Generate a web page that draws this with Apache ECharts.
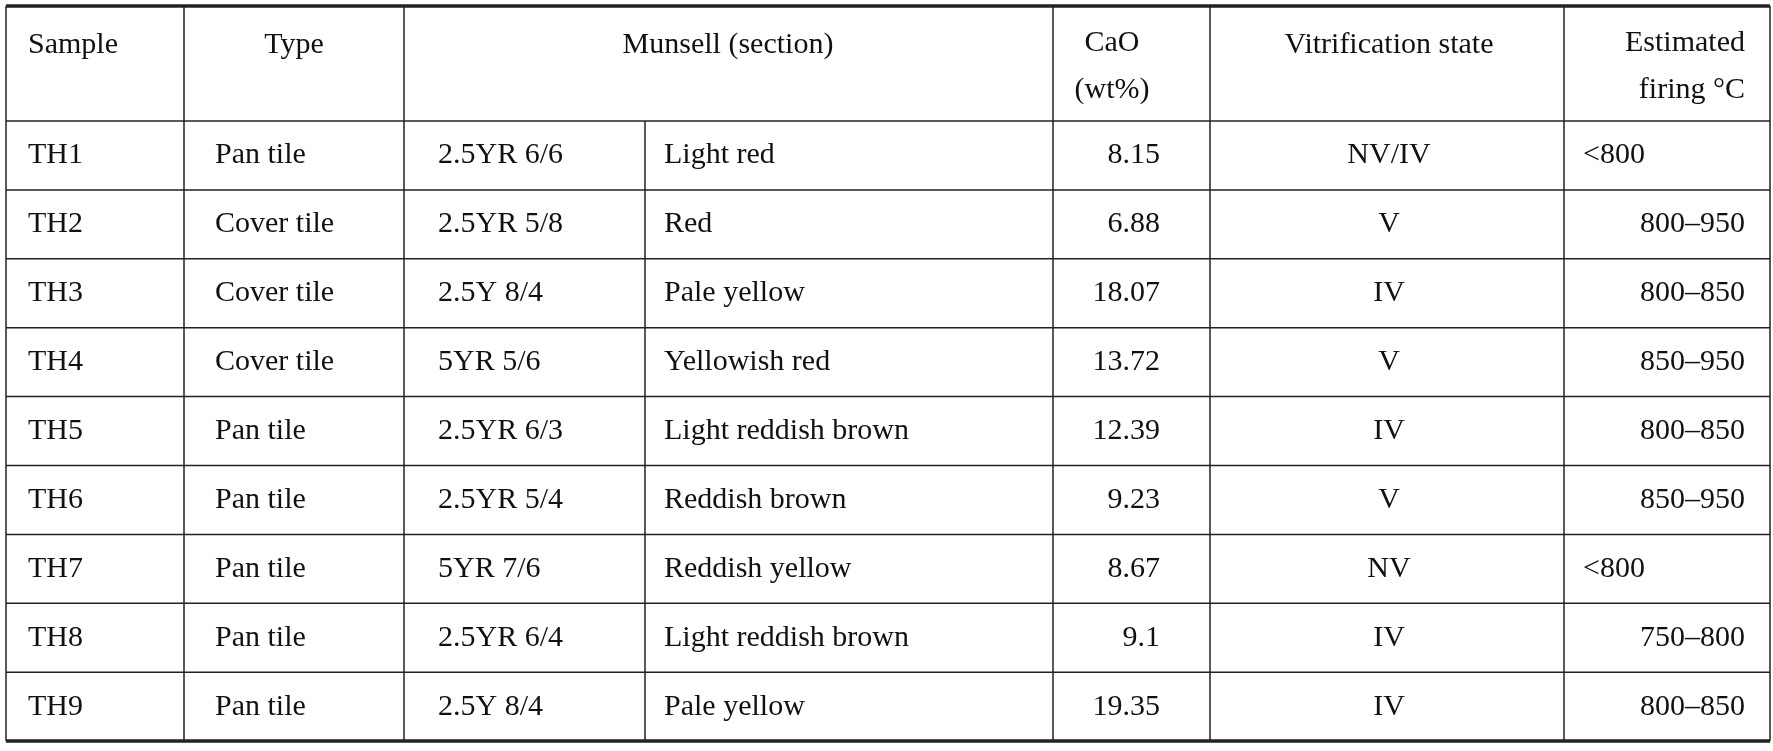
<!DOCTYPE html>
<html>
<head>
<meta charset="utf-8">
<script src="https://cdn.jsdelivr.net/npm/echarts@6/dist/echarts.min.js"></script>
<style>html,body{margin:0;padding:0;background:#fff}#container{width:1773px;height:751px}</style>
</head>
<body>
<div id="container"></div>
<script>
var samples = ['TH1', 'TH2', 'TH3', 'TH4', 'TH5', 'TH6', 'TH7', 'TH8', 'TH9'];
var types = ['Pan tile', 'Cover tile', 'Cover tile', 'Cover tile', 'Pan tile', 'Pan tile', 'Pan tile', 'Pan tile', 'Pan tile'];
var munsellCodes = ['2.5YR 6/6', '2.5YR 5/8', '2.5Y 8/4', '5YR 5/6', '2.5YR 6/3', '2.5YR 5/4', '5YR 7/6', '2.5YR 6/4', '2.5Y 8/4'];
var munsellNames = ['Light red', 'Red', 'Pale yellow', 'Yellowish red', 'Light reddish brown', 'Reddish brown', 'Reddish yellow', 'Light reddish brown', 'Pale yellow'];
var cao = ['8.15', '6.88', '18.07', '13.72', '12.39', '9.23', '8.67', '9.1', '19.35'];
var vitrification = ['NV/IV', 'V', 'IV', 'V', 'IV', 'V', 'NV', 'IV', 'IV'];
var firing = ['<800', '800–950', '800–850', '850–950', '800–850', '850–950', '<800', '750–800', '800–850'];

(function () {
    var dom = document.getElementById("container");
    var myChart = echarts.init(dom);

    var tLeft = 6, tRight = 1770, tTop = 6, headBottom = 121, rowH = 68.9;
    var cols = [tLeft, 184, 404, 645, 1053, 1210, 1564, tRight];
    var font = '30px "Liberation Serif", "DejaVu Serif", serif';
    var els = [];

    function txt(x, y, s, align) {
        els.push({ type: 'text', x: x, y: y, style: { text: s, font: font, fill: '#111', align: align || 'left', verticalAlign: 'middle' } });
    }
    function line(x1, y1, x2, y2, w) {
        els.push({ type: 'line', shape: { x1: x1, y1: y1, x2: x2, y2: y2 }, style: { stroke: '#222', lineWidth: w } });
    }

    var tBottom = headBottom + rowH * samples.length;
    // header
    txt(28, 45, 'Sample');
    txt(294, 45, 'Type', 'center');
    txt(728, 45, 'Munsell (section)', 'center');
    txt(1112, 43, 'CaO', 'center');
    txt(1112, 90, '(wt%)', 'center');
    txt(1389, 45, 'Vitrification state', 'center');
    txt(1745, 43, 'Estimated', 'right');
    txt(1745, 90, 'firing °C', 'right');

    for (var i = 0; i < samples.length; i++) {
        var cy = headBottom + rowH * (i + 0.5);
        txt(28, cy, samples[i]);
        txt(215, cy, types[i]);
        txt(438, cy, munsellCodes[i]);
        txt(664, cy, munsellNames[i]);
        txt(1160, cy, cao[i], 'right');
        txt(1389, cy, vitrification[i], 'center');
        if (firing[i].charAt(0) == '<') txt(1583, cy, firing[i]);
        else txt(1745, cy, firing[i], 'right');
        if (i > 0) line(tLeft, headBottom + rowH * i, tRight, headBottom + rowH * i, 1.5);
    }
    line(tLeft, tTop, tRight, tTop, 3.5);
    line(tLeft, headBottom, tRight, headBottom, 1.5);
    line(tLeft, tBottom, tRight, tBottom, 3.5);
    for (var c = 0; c < cols.length; c++) {
        var y0 = cols[c] == 645 ? headBottom : tTop;
        line(cols[c], y0, cols[c], tBottom, 1.5);
    }

    myChart.setOption({ backgroundColor: '#fff', graphic: { elements: els } });
})();
</script>
</body>
</html>
